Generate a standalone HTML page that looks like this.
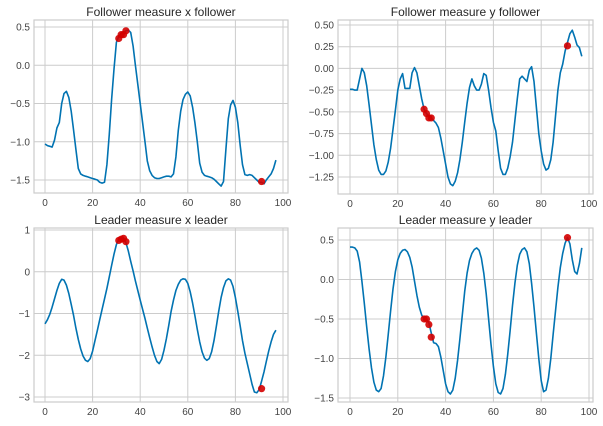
<!DOCTYPE html>
<html><head><meta charset="utf-8"><style>
body{margin:0;background:#fff;}
svg{display:block;font-family:"Liberation Sans",sans-serif;}
</style></head><body>
<svg id="c" width="603" height="426"></svg>
<script>
const xTicks=[0,20,40,60,80,100];
const followerX=[-1.03,-1.05,-1.06,-1.07,-0.98,-0.82,-0.75,-0.5,-0.37,-0.34,-0.42,-0.6,-0.85,-1.1,-1.35,-1.42,-1.44,-1.45,-1.46,-1.47,-1.48,-1.49,-1.5,-1.53,-1.54,-1.53,-1.3,-0.9,-0.45,-0.05,0.3,0.38,0.42,0.41,0.45,0.46,0.43,0.25,0,-0.25,-0.5,-0.75,-1.0,-1.25,-1.38,-1.44,-1.47,-1.48,-1.48,-1.47,-1.46,-1.45,-1.45,-1.46,-1.42,-1.2,-0.85,-0.6,-0.45,-0.38,-0.35,-0.4,-0.55,-0.75,-1.0,-1.28,-1.4,-1.44,-1.45,-1.46,-1.47,-1.49,-1.52,-1.55,-1.58,-1.52,-1.1,-0.7,-0.52,-0.46,-0.55,-0.75,-1.05,-1.3,-1.43,-1.44,-1.43,-1.44,-1.47,-1.5,-1.53,-1.53,-1.55,-1.5,-1.46,-1.42,-1.35,-1.24];
const followerY=[-0.24,-0.24,-0.25,-0.25,-0.12,0,-0.05,-0.2,-0.42,-0.65,-0.88,-1.05,-1.17,-1.22,-1.22,-1.18,-1.08,-0.92,-0.7,-0.48,-0.25,-0.12,-0.06,-0.23,-0.23,-0.23,-0.05,0.01,-0.05,-0.2,-0.35,-0.47,-0.52,-0.55,-0.57,-0.6,-0.63,-0.68,-0.8,-0.95,-1.1,-1.25,-1.33,-1.35,-1.3,-1.2,-1.05,-0.85,-0.62,-0.4,-0.22,-0.12,-0.2,-0.25,-0.25,-0.18,-0.06,-0.08,-0.25,-0.45,-0.62,-0.72,-0.95,-1.15,-1.22,-1.22,-1.15,-1.02,-0.85,-0.6,-0.35,-0.12,-0.09,-0.12,-0.15,-0.02,0.02,-0.15,-0.45,-0.75,-0.95,-1.1,-1.17,-1.15,-1.05,-0.85,-0.55,-0.25,-0.05,0.05,0.2,0.3,0.4,0.44,0.36,0.27,0.24,0.14];
const leaderX=[-1.25,-1.15,-1.02,-0.85,-0.65,-0.45,-0.28,-0.18,-0.2,-0.32,-0.52,-0.78,-1.05,-1.35,-1.62,-1.85,-2.02,-2.12,-2.15,-2.08,-1.9,-1.65,-1.4,-1.15,-0.9,-0.65,-0.4,-0.12,0.15,0.42,0.65,0.78,0.8,0.8,0.7,0.5,0.25,0.02,-0.22,-0.45,-0.68,-0.9,-1.12,-1.35,-1.58,-1.8,-2.0,-2.15,-2.2,-2.1,-1.88,-1.6,-1.28,-0.95,-0.68,-0.45,-0.3,-0.2,-0.17,-0.18,-0.28,-0.48,-0.75,-1.05,-1.38,-1.68,-1.92,-2.07,-2.12,-2.08,-1.92,-1.65,-1.3,-0.95,-0.62,-0.38,-0.22,-0.17,-0.2,-0.35,-0.62,-0.95,-1.3,-1.65,-1.95,-2.2,-2.45,-2.7,-2.88,-2.9,-2.82,-2.62,-2.4,-2.15,-1.9,-1.68,-1.5,-1.4];
const leaderY=[0.41,0.41,0.4,0.36,0.22,-0.02,-0.3,-0.6,-0.88,-1.12,-1.3,-1.4,-1.42,-1.38,-1.22,-0.98,-0.7,-0.4,-0.12,0.1,0.25,0.33,0.37,0.38,0.35,0.28,0.16,-0.02,-0.2,-0.35,-0.45,-0.5,-0.5,-0.55,-0.68,-0.8,-0.81,-0.85,-0.98,-1.15,-1.32,-1.42,-1.45,-1.4,-1.25,-1.02,-0.75,-0.45,-0.15,0.08,0.24,0.33,0.38,0.4,0.37,0.27,0.08,-0.18,-0.5,-0.82,-1.1,-1.32,-1.43,-1.45,-1.38,-1.2,-0.95,-0.65,-0.33,-0.05,0.18,0.32,0.38,0.4,0.35,0.2,-0.05,-0.35,-0.68,-1.0,-1.28,-1.42,-1.4,-1.25,-1.0,-0.7,-0.4,-0.1,0.15,0.33,0.46,0.53,0.45,0.25,0.1,0.07,0.2,0.4];
const markIdx=[31,32,33,34,91];
const fxMarks=[0.35,0.4,0.4,0.45,-1.52];
const fyMarks=[-0.47,-0.52,-0.57,-0.57,0.26];
const lxMarks=[0.75,0.78,0.8,0.72,-2.8];
const lyMarks=[-0.5,-0.5,-0.57,-0.73,0.53];

const panels=[
 {name:'follower-x',title:'Follower measure x follower',data:followerX,marks:fxMarks,
  L:34,R:288,T:20,B:193,x0px:45,x100px:283,v1:0.5,p1:27,v2:-1.5,p2:180,
  yt:[0.5,0,-0.5,-1,-1.5],fmt:v=>v.toFixed(1)},
 {name:'follower-y',title:'Follower measure y follower',data:followerY,marks:fyMarks,
  L:338,R:593,T:20,B:194,x0px:350,x100px:589,v1:0.5,p1:25,v2:-1.25,p2:177,
  yt:[0.5,0.25,0,-0.25,-0.5,-0.75,-1,-1.25],fmt:v=>v.toFixed(2)},
 {name:'leader-x',title:'Leader measure x leader',data:leaderX,marks:lxMarks,
  L:34,R:288,T:228,B:402,x0px:45,x100px:283,v1:1,p1:230,v2:-3,p2:397,
  yt:[1,0,-1,-2,-3],fmt:v=>v.toFixed(0)},
 {name:'leader-y',title:'Leader measure y leader',data:leaderY,marks:lyMarks,
  L:338,R:593,T:228,B:402,x0px:350,x100px:589,v1:0.5,p1:240,v2:-1.5,p2:398,
  yt:[0.5,0,-0.5,-1,-1.5],fmt:v=>v.toFixed(1)}
];
const NS='http://www.w3.org/2000/svg';
const svg=document.getElementById('c');
function mk(tag,attrs,parent){const e=document.createElementNS(NS,tag);for(const k in attrs)e.setAttribute(k,attrs[k]);(parent||svg).appendChild(e);return e;}
panels.forEach(p=>{
 const g=mk('g',{});
 
 
 const xs=v=>p.x0px+v*(p.x100px-p.x0px)/100;
 const ys=v=>p.p1+(p.v1-v)*(p.p2-p.p1)/(p.v1-p.v2);
 xTicks.forEach(t=>{
  const l=mk('line',{x1:xs(t),x2:xs(t),y1:p.T,y2:p.B,stroke:'#cccccc','stroke-width':1},g);
  
  
  const tx=mk('text',{x:xs(t),y:p.B+13,'font-size':10,fill:'#444','text-anchor':'middle'},g);
  tx.textContent=t;
  
  
 });
 p.yt.forEach(t=>{
  const l=mk('line',{x1:p.L,x2:p.R,y1:ys(t),y2:ys(t),stroke:'#cccccc','stroke-width':1},g);
  
  
  const tx=mk('text',{x:p.L-4,y:ys(t)+3.5,'font-size':10,fill:'#444','text-anchor':'end'},g);
  tx.textContent=p.fmt(t).replace('-','\u2212');
  
  
 });
 const fr=mk('rect',{x:p.L,y:p.T,width:p.R-p.L,height:p.B-p.T,fill:'none',stroke:'#cccccc','stroke-width':1.2},g);
 
 
 const pts=p.data.map((v,i)=>xs(i).toFixed(1)+','+ys(v).toFixed(1)).join(' ');
 const pl=mk('polyline',{points:pts,fill:'none',stroke:'#0173b2','stroke-width':1.6,'stroke-linejoin':'round'},g);
 
 
 p.marks.forEach((v,k)=>{
  const c=mk('circle',{cx:xs(markIdx[k]),cy:ys(v),r:3.6,fill:'#d40000','fill-opacity':0.9},g);
  
  
 });
 const ti=mk('text',{x:(p.L+p.R)/2,y:p.T-4,'font-size':12,fill:'#262626','text-anchor':'middle'},g);
 ti.textContent=p.title;
 
 
});
</script>
</body></html>
